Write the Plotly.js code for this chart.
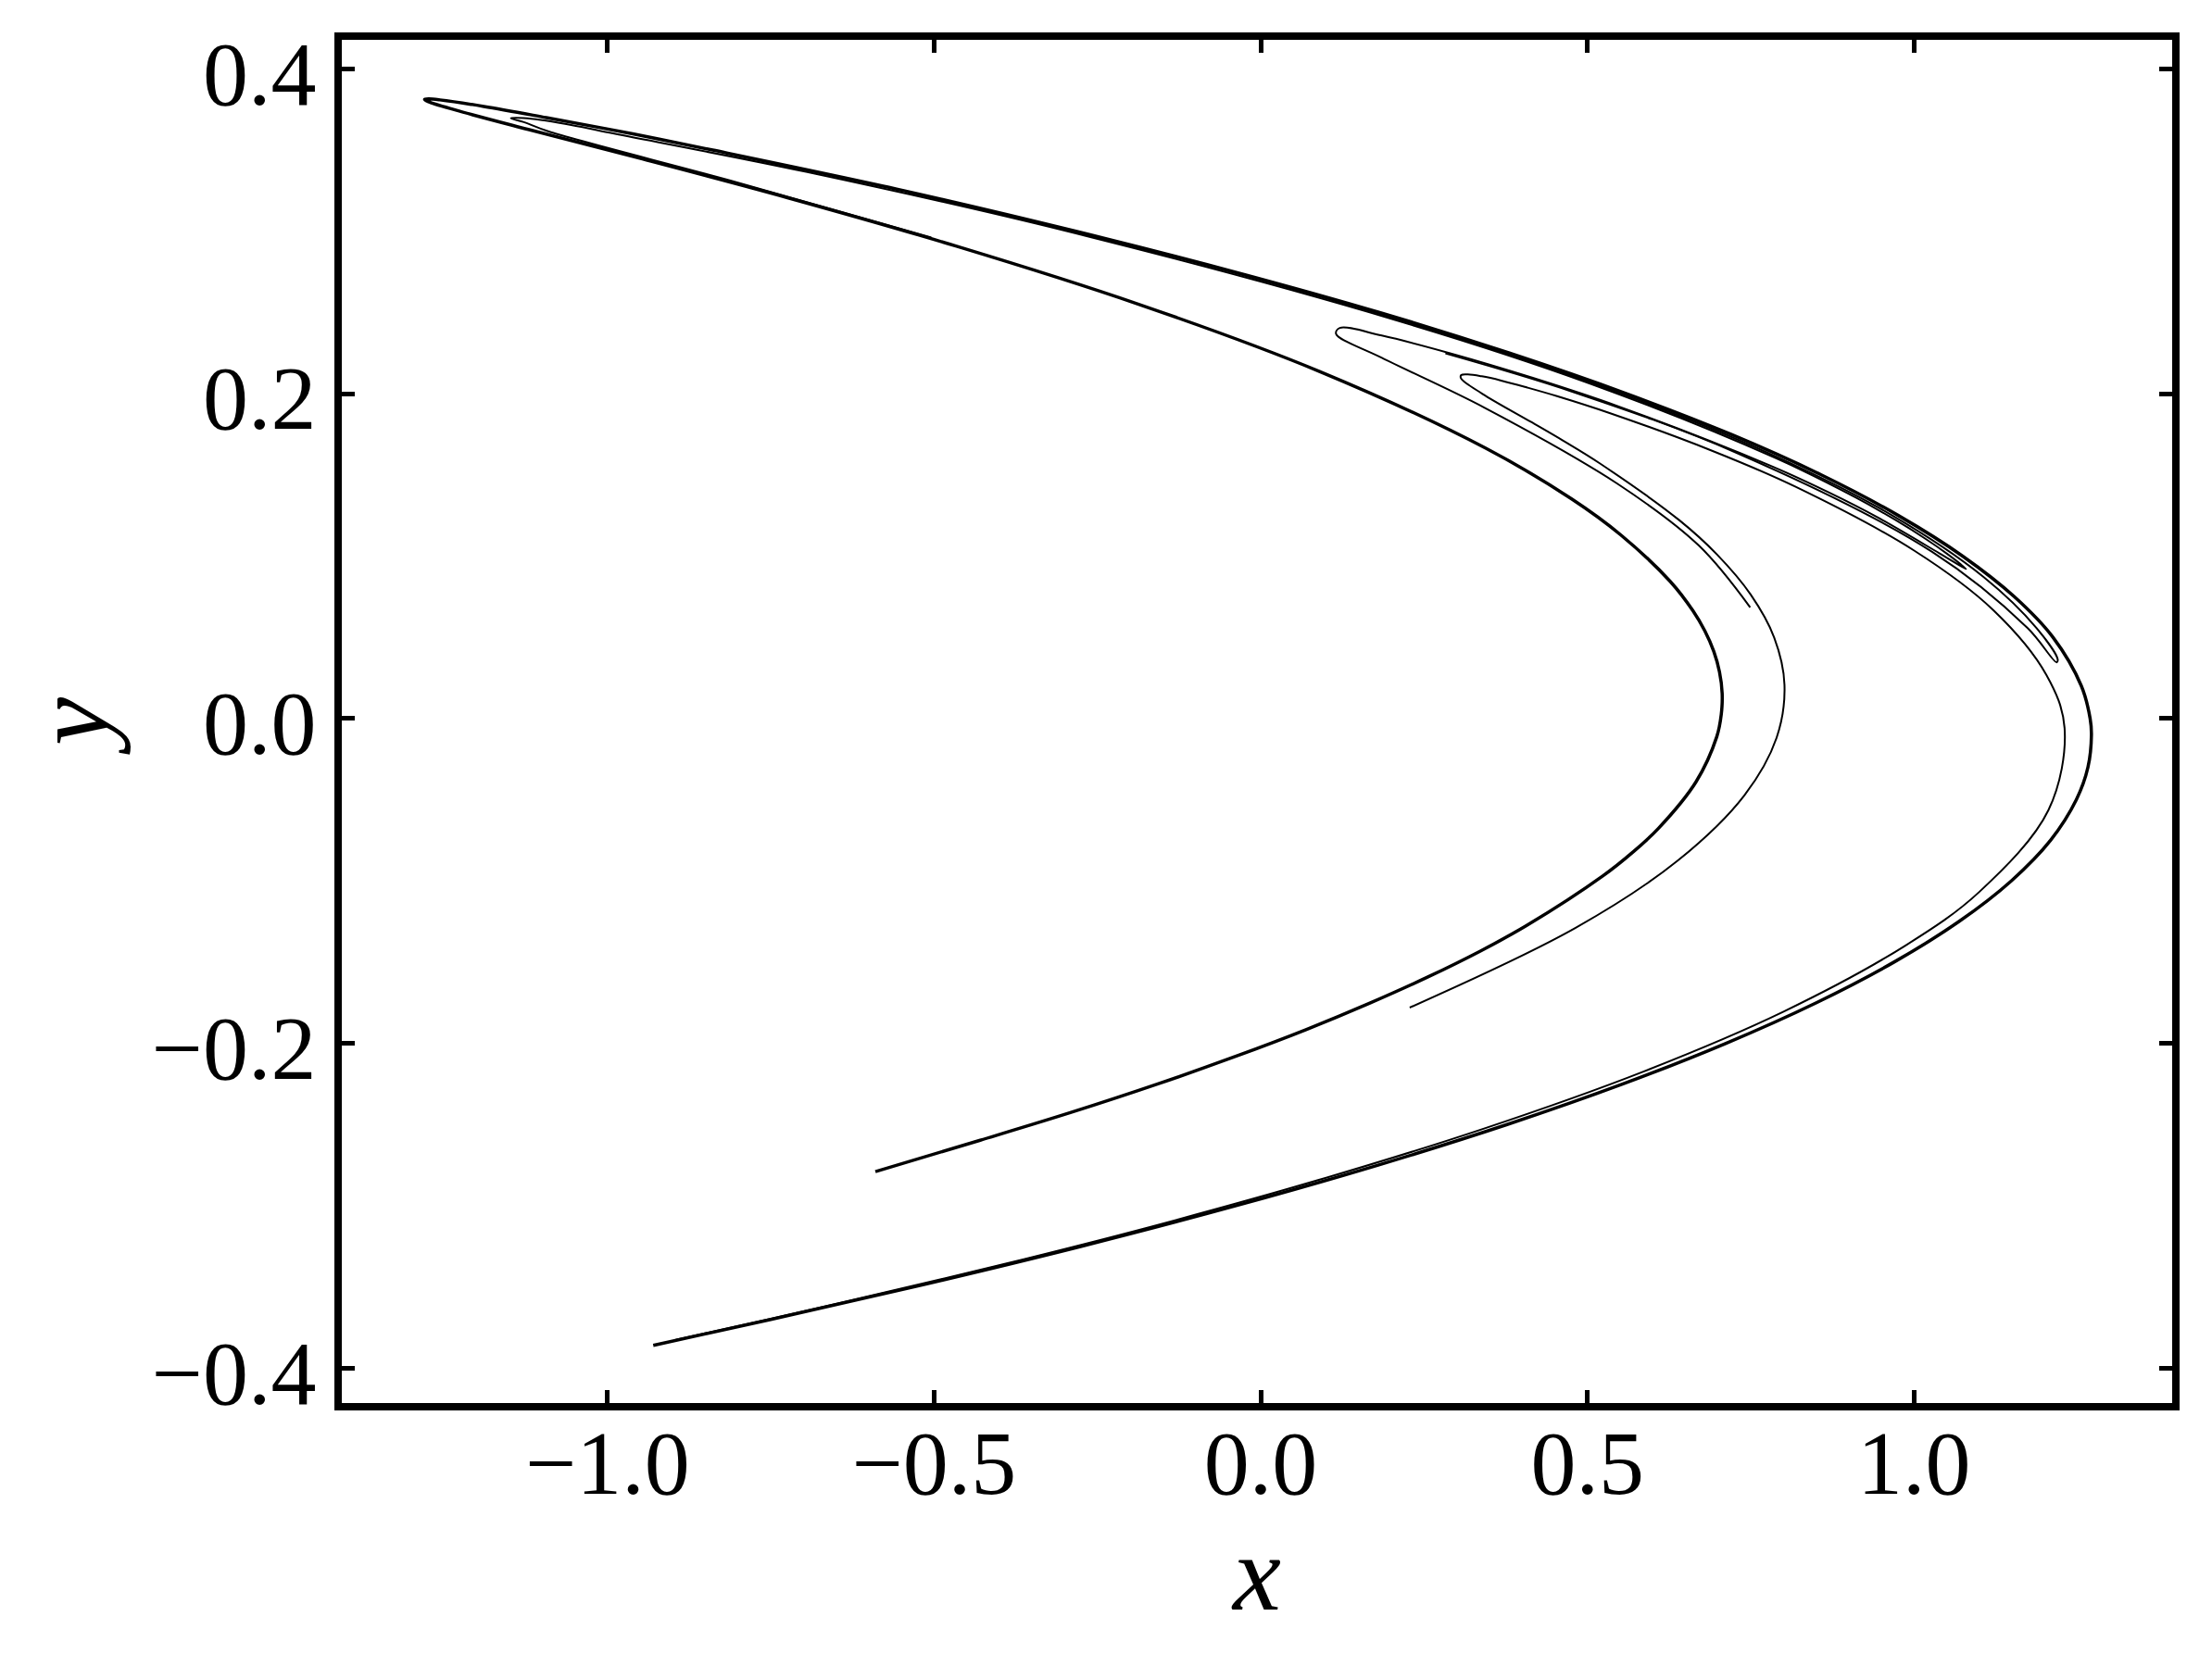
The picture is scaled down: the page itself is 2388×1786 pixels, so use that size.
<!DOCTYPE html>
<html>
<head>
<meta charset="utf-8">
<script src="https://cdn.plot.ly/plotly-3.0.1.min.js"></script>
<style>html,body{margin:0;padding:0;background:#fff;}#chart{width:2388px;height:1786px;}</style>
</head>
<body>
<div id="chart"></div>
<script>
// Outer boundary curve: bottom-left end -> bottom band -> right fold -> top band -> top-left tip -> inner curve -> inner end
const outerX = [-0.93,-0.75,-0.5311,-0.2744,-0.0377,0.1796,0.3771,0.5545,0.7122,0.8506,0.9694,1.0689,1.1489,1.209,1.2485,1.2663,1.2716,1.2696,1.2562,1.2127,1.1535,1.0744,0.9759,0.858,0.7197,0.56,0.3806,0.182,-0.04,-0.2828,-0.5463,-0.839,-0.9614,-1.0938,-1.1893,-1.2566,-1.2738,-1.2801,-1.2749,-1.2323,-1.1214,-0.948,-0.7245,-0.4656,-0.1879,0.0899,0.3445,0.4759,0.5509,0.627,0.6616,0.6798,0.6935,0.7022,0.7063,0.7049,0.698,0.6663,0.6089,0.5696,0.5235,0.4066,0.3362,0.2551,0.1662,0.0692,-0.0395,-0.1575,-0.2915,-0.4295,-0.59];
const outerY = [-0.386,-0.37,-0.35,-0.325,-0.3,-0.275,-0.25,-0.225,-0.2,-0.175,-0.15,-0.125,-0.1,-0.075,-0.05,-0.03,-0.01,0,0.02,0.05,0.075,0.1,0.125,0.15,0.175,0.2,0.225,0.25,0.275,0.3,0.325,0.35,0.36,0.37,0.3769,0.3809,0.3815,0.3812,0.3799,0.3746,0.3627,0.3447,0.3207,0.2908,0.2552,0.2137,0.1664,0.1352,0.1131,0.0843,0.0663,0.0539,0.0413,0.0287,0.0155,0.0024,-0.0113,-0.039,-0.0676,-0.0823,-0.097,-0.1276,-0.1432,-0.1593,-0.1754,-0.1916,-0.2082,-0.225,-0.2427,-0.2597,-0.279];

// Second layer: inside the bottom band, second right fold, small fold near (0.31, 0.21), middle fold, end near (0.23, -0.18)
const secondX = [-0.8956,-0.7514,-0.6356,-0.3978,-0.167,0.0865,0.3386,0.5858,0.8003,0.9873,1.0999,1.2058,1.2305,1.2024,1.122,1.0002,0.8181,0.6882,0.5339,0.4535,0.4069,0.368,0.3384,0.3171,0.3068,0.3066,0.3394,0.4133,0.4635,0.5193,0.641,0.6986,0.7496,0.7859,0.8017,0.7896,0.7403,0.6383,0.482,0.228];
const secondY = [-0.3825,-0.3697,-0.3591,-0.3364,-0.3128,-0.2844,-0.2529,-0.2174,-0.1805,-0.1397,-0.1068,-0.0564,-0.0059,0.027,0.0665,0.1034,0.1428,0.1653,0.1881,0.1985,0.2039,0.2081,0.2107,0.2119,0.2115,0.2094,0.1999,0.1827,0.1709,0.157,0.122,0.1009,0.0765,0.0499,0.0208,-0.0119,-0.0473,-0.0875,-0.1289,-0.178];

// Third layer: second top-left tip, small right tip, fold near (0.12, 0.24), end near (0.75, 0.07)
const thirdX = [-0.5044,-0.8005,-1.0919,-1.128,-1.148,-1.128,-1.065,-0.997,-0.6959,-0.2972,0.2058,0.5022,0.789,0.9106,0.9721,1.0185,1.0504,1.0711,1.0797,1.0386,0.9436,0.8701,0.7795,0.5468,0.4176,0.2898,0.1852,0.121,0.1152,0.1854,0.3421,0.5458,0.6706,0.7492];
const thirdY = [0.2962,0.33,0.3617,0.3672,0.3697,0.3697,0.3662,0.3607,0.3366,0.3001,0.2454,0.2065,0.1602,0.1361,0.1221,0.1104,0.1015,0.0951,0.092,0.1018,0.124,0.1391,0.1558,0.1923,0.2096,0.2249,0.2358,0.2405,0.2369,0.2221,0.1915,0.1446,0.1065,0.0684];

// Fourth layer: along the top band, tip near (1.22, 0.036), end near (0.28, 0.22)
const fourthX = [-0.5401,-0.4084,-0.1225,0.0792,0.3051,0.5647,0.7737,0.9655,1.1073,1.1878,1.22,1.2183,1.174,1.0277,0.7276,0.4769,0.2826];
const fourthY = [0.3239,0.3116,0.2831,0.261,0.2339,0.198,0.164,0.1253,0.0869,0.0556,0.0363,0.0346,0.0556,0.1026,0.1637,0.2012,0.2248];

const xTickVals = [-1.0,-0.5,0.0,0.5,1.0];
const xTickText = ['\u22121.0','\u22120.5','0.0','0.5','1.0'];
const yTickVals = [-0.4,-0.2,0.0,0.2,0.4];
const yTickText = ['\u22120.4','\u22120.2','0.0','0.2','0.4'];

function curve(xs, ys, w){
  return {x: xs, y: ys, type:'scatter', mode:'lines',
          line:{color:'#000', width:w, shape:'spline', smoothing:1},
          hoverinfo:'skip', showlegend:false};
}

const data = [
  curve(outerX, outerY, 3.5),
  curve(secondX, secondY, 2),
  curve(thirdX, thirdY, 2),
  curve(fourthX, fourthY, 2)
];

const FONT = 'Liberation Serif, Times New Roman, serif';
const axisCommon = {
  showline:true, linecolor:'#000', linewidth:8, mirror:'allticks',
  ticks:'inside', ticklen:14, tickwidth:5, tickcolor:'#000',
  showgrid:false, zeroline:false, tickmode:'array',
  tickfont:{family:FONT, size:98, color:'#000'}
};

const layout = {
  width:2388, height:1786,
  margin:{l:369, r:43, t:43, b:271, pad:0},
  paper_bgcolor:'#fff', plot_bgcolor:'#fff',
  font:{family:FONT, color:'#000'},
  showlegend:false,
  xaxis: Object.assign({}, axisCommon, {
    range:[-1.4068, 1.3952], tickvals:xTickVals, ticktext:xTickText,
    ticklabelstandoff:-28,
    title:{text:'x', font:{family:FONT, size:117, style:'italic', color:'#000'}, standoff:3}
  }),
  yaxis: Object.assign({}, axisCommon, {
    range:[-0.4215, 0.4179], tickvals:yTickVals, ticktext:yTickText,
    ticklabelshift:4,
    title:{text:'y', font:{family:FONT, size:117, style:'italic', color:'#000'}, standoff:11}
  })
};

Plotly.newPlot('chart', data, layout, {displayModeBar:false, staticPlot:true});
</script>
</body>
</html>
